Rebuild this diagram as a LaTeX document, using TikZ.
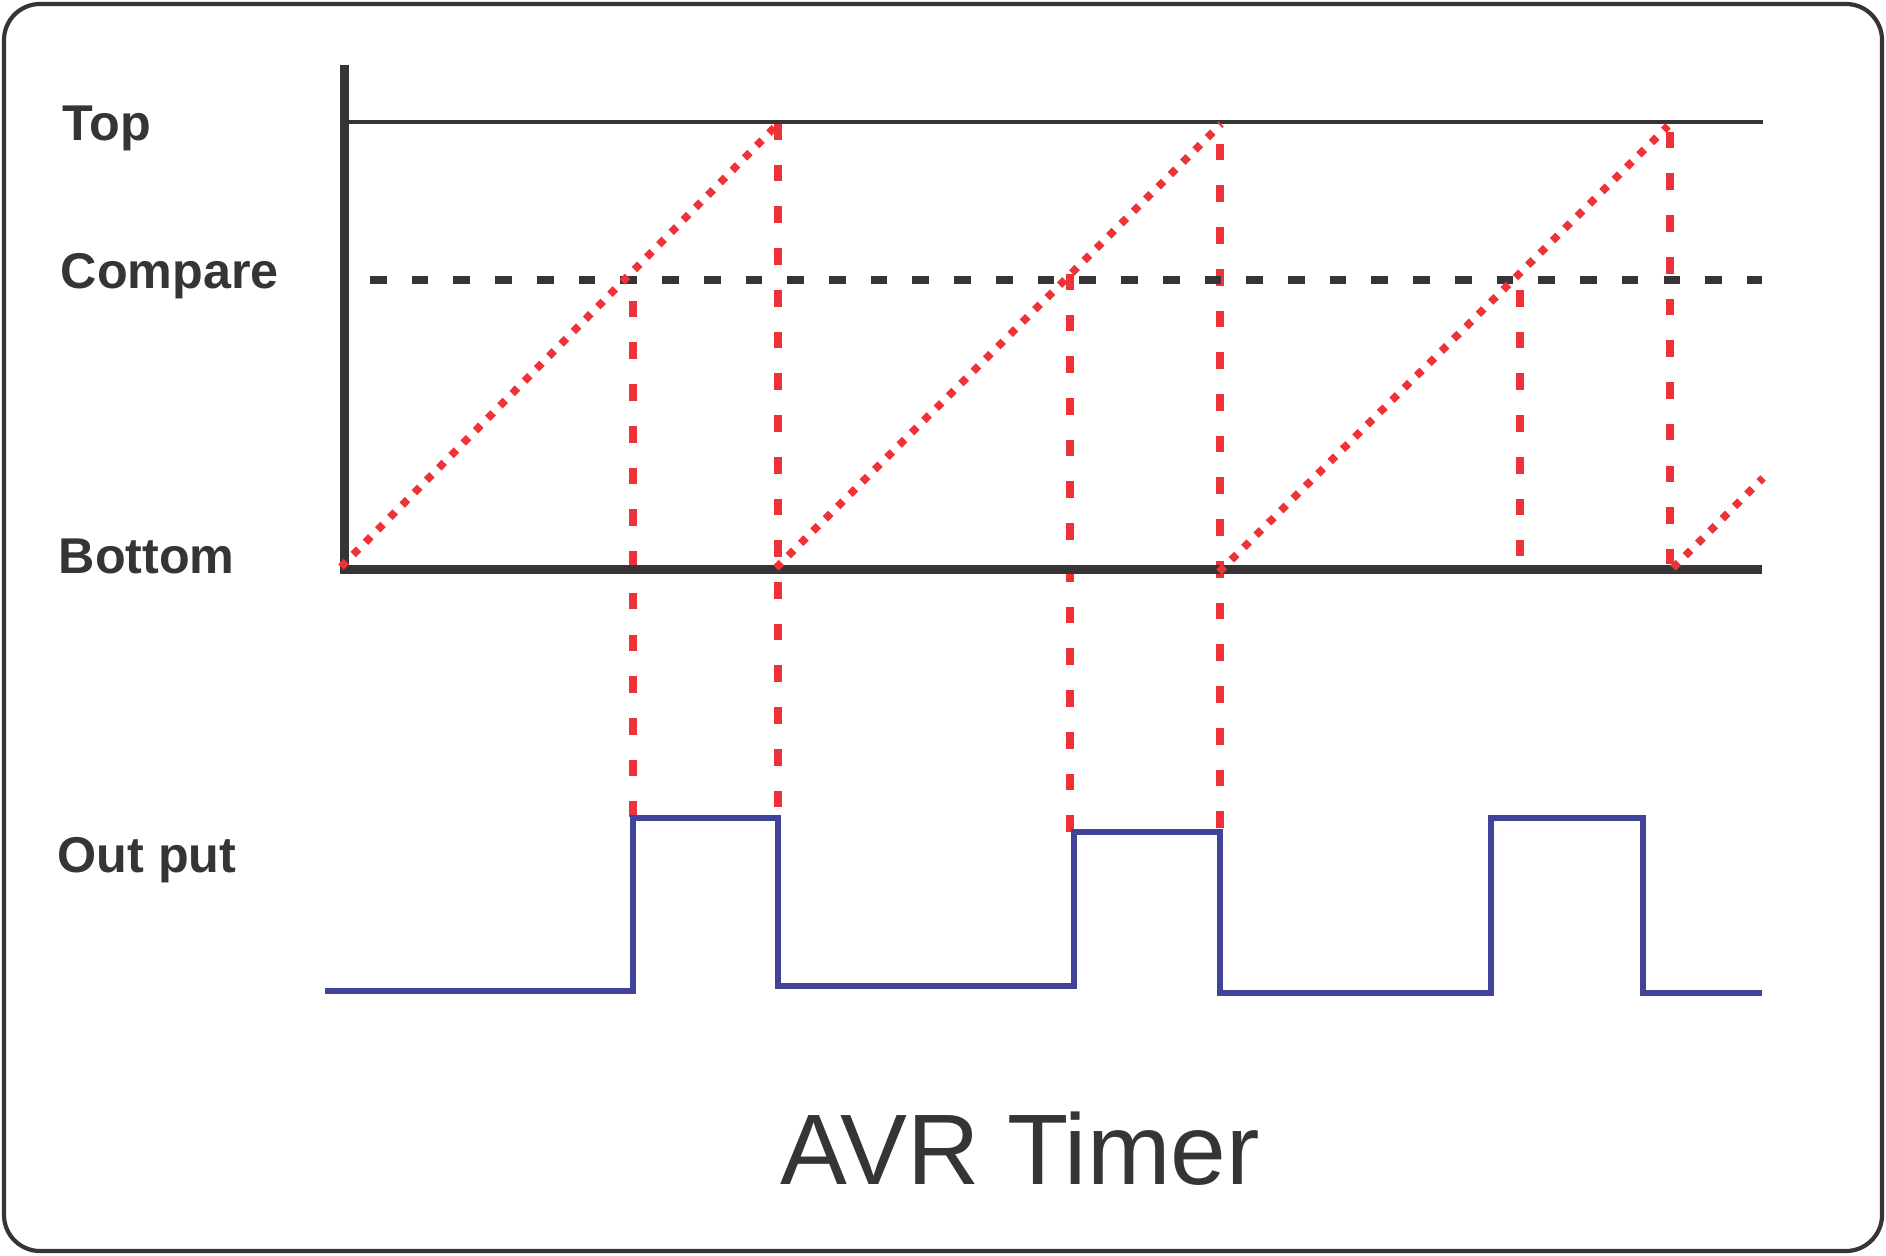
\documentclass[tikz,border=0pt]{standalone}
\usepackage{fontspec}
\setmainfont{Liberation Sans}
\definecolor{ink}{RGB}{55,52,53}
\definecolor{tred}{RGB}{238,50,56}
\definecolor{tblue}{RGB}{64,68,152}
\begin{document}
\begin{tikzpicture}[x=0.01cm,y=-0.01cm,
  lbl/.style={anchor=base west, inner sep=0pt, text=ink, font=\fontsize{14.3}{17}\selectfont\bfseries},
  axisline/.style={draw=ink, line width=0.087cm, line join=miter},
  thinline/.style={draw=ink, line width=0.04cm},
  ramp/.style={draw=tred, line width=0.076cm, dash pattern=on 0.076cm off 0.098cm},
  proj/.style={draw=tred, line width=0.08cm, dash pattern=on 0.167cm off 0.25cm},
  cmpline/.style={draw=ink, line width=0.073cm, dash pattern=on 0.167cm off 0.25cm},
  wave/.style={draw=tblue, line width=0.056cm, line join=miter}]

\useasboundingbox (0,0) rectangle (1886,1255);
\fill[white] (0,0) rectangle (1886,1255);
\draw[ink, line width=0.042cm, rounded corners=0.36cm] (4,4) rectangle (1882,1251);

% projections (drawn first, under axes)
\draw[proj] (633,300.7) -- (633,817.4);
\draw[proj] (778,123) -- (778,807);
\draw[proj] (1070,832) -- (1070,274);
\draw[proj] (1220,828) -- (1220,124);
\draw[proj] (1520,290) -- (1520,556);
\draw[proj] (1670,131.7) -- (1670,564);

% compare level
\draw[cmpline] (370,280) -- (1762,280);

% top level
\draw[thinline] (349,122) -- (1763,122);

% axes
\draw[axisline] (344.5,65) -- (344.5,569.5) -- (1762,569.5);

% counter ramps
\draw[ramp] (341,567) -- (778,124);
\draw[ramp] (776,568) -- (1221,124);
\draw[ramp] (1219,572) -- (1668,126);
\draw[ramp] (1673,568) -- (1763,478);

% output waveform
\draw[wave] (325,991) -- (633,991) -- (633,818) -- (778,818) -- (778,986)
  -- (1074,986) -- (1074,832) -- (1220,832) -- (1220,993) -- (1491,993)
  -- (1491,818) -- (1643,818) -- (1643,993) -- (1762,993);

% labels
\node[lbl] (top) at (62,141) {Top};
\node[lbl] (compare) at (60,289) {Compare};
\node[lbl] (bottom) at (58,573) {Bottom};
\node[lbl] (output) at (57,872) {Out put};
\node[anchor=base west, inner sep=0pt, text=ink, font=\fontsize{28.5}{34}\selectfont] (title) at (780,1184) {AVR Timer};
\end{tikzpicture}
\end{document}
